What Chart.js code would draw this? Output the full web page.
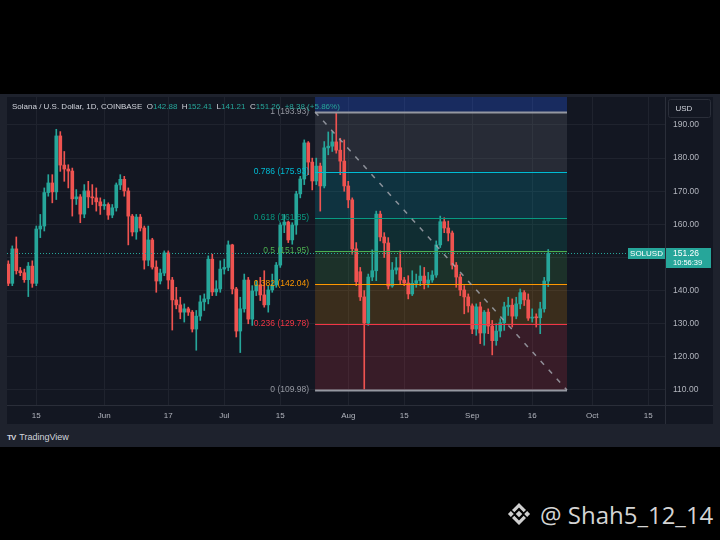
<!DOCTYPE html>
<html><head><meta charset="utf-8">
<script src="https://cdn.jsdelivr.net/npm/chart.js@4.4.1/dist/chart.umd.min.js"></script>
<style>
html,body{margin:0;padding:0;background:#000;width:720px;height:540px;overflow:hidden;font-family:"Liberation Sans",Arial,sans-serif;}
#frame{position:absolute;left:0;top:94px;width:720px;height:353px;background:#1e222d;}
#wrap{position:absolute;left:7px;top:97px;width:706px;height:327px;background:#131722;}
#hdr{position:absolute;left:12px;top:102px;font-size:8px;line-height:10px;color:#d1d4dc;white-space:pre;}
#hdr .t{color:#26a69a;}
#tv{position:absolute;left:7px;top:431px;font-size:9px;line-height:12px;color:#d1d4dc;}
#tv b{font-size:8px;letter-spacing:-1px;margin-right:4px;}
#wm{position:absolute;left:505px;top:497px;height:34px;display:flex;align-items:center;color:#d4d4d4;font-family:"Open Sans",sans-serif;font-size:24px;}
#wm svg{margin-right:7px;}
</style></head>
<body>
<div id="frame"></div>
<div id="wrap"><canvas id="c" width="706" height="327"></canvas></div>
<div id="hdr">Solana / U.S. Dollar, 1D, COINBASE  O<span class="t">142.88</span>  H<span class="t">152.41</span>  L<span class="t">141.21</span>  C<span class="t">151.26</span>  <span class="t">+8.38 (+5.86%)</span></div>
<div id="tv"><b>TV</b>TradingView</div>
<div id="wm"><svg width="28" height="28" viewBox="0 0 24 24"><g fill="#cfcfcf">
<polygon points="12,9.2 14.8,12 12,14.8 9.2,12"/>
<polygon points="2.5,12 5,9.5 7.5,12 5,14.5"/>
<polygon points="16.5,12 19,9.5 21.5,12 19,14.5"/>
<polygon points="12,2.5 18,8.5 16,10.5 12,6.5 8,10.5 6,8.5"/>
<polygon points="12,21.5 18,15.5 16,13.5 12,17.5 8,13.5 6,15.5"/>
</g></svg><span>@ Shah5_12_14</span></div>
<script>
// ---- data (daily candles, May 8 .. Sep 20) ----
const openP  = [148.0,142.2,152.6,146.0,145.4,143.3,147.4,142.2,158.6,159.5,169.6,172.5,169.8,186.7,177.9,176.7,176.1,167.7,168.3,163.1,170.1,168.3,168.0,166.8,165.6,166.0,162.8,165.0,171.9,173.6,
170.1,162.5,157.7,162.2,158.9,149.2,155.3,147.1,142.9,145.3,151.4,143.2,137.2,135.7,133.5,134.5,133.5,128.4,132.3,136.6,137.5,149.5,139.6,140.5,146.5,147.0,153.8,140.5,127.8,134.5,
143.2,131.4,139.9,141.7,138.7,135.7,140.2,141.7,147.7,159.8,160.7,155.3,159.8,169.2,173.7,184.6,178.8,173.1,177.6,171.6,183.1,183.6,184.9,182.4,179.1,171.6,167.4,152.6,145.7,138.1,
130.2,144.1,146.0,163.1,156.2,154.4,141.4,146.2,146.9,143.2,142.3,139.0,142.2,143.0,144.4,142.2,143.2,144.7,153.8,160.8,158.9,157.4,147.7,144.1,140.2,138.1,135.4,128.4,135.1,127.2,
133.5,129.3,124.9,127.8,130.3,135.1,135.6,132.3,136.0,139.4,137.2,131.7,132.0,131.8,134.5,142.88];
const highP  = [149.0,153.5,156.2,147.0,146.5,148.5,149.0,159.5,163.0,171.0,175.0,175.0,188.7,188.0,182.0,178.0,177.0,170.5,169.0,172.0,173.0,172.0,171.0,168.0,167.5,166.5,166.0,172.5,175.0,174.5,
171.0,163.0,163.0,163.0,159.5,159.5,155.8,149.0,146.5,152.0,152.0,144.0,141.0,138.0,136.0,135.0,134.0,134.0,138.5,139.0,150.5,151.0,143.0,149.0,149.5,155.0,154.0,141.0,138.0,145.0,
144.0,141.5,143.0,144.0,146.0,141.5,145.0,148.5,160.5,163.0,161.0,160.5,170.0,174.5,185.5,185.0,180.0,180.0,178.5,185.0,187.9,188.0,193.7,186.0,185.5,173.0,168.0,154.5,147.0,140.0,
145.0,152.3,164.0,164.0,157.5,156.0,148.5,150.0,152.0,144.0,144.5,146.0,145.0,147.5,147.0,145.5,146.0,155.0,162.5,162.0,161.0,158.0,148.5,145.0,141.5,139.0,136.0,136.0,136.5,134.0,
134.5,131.0,130.0,131.5,136.5,138.0,137.5,138.0,140.5,140.0,139.0,134.5,133.0,136.5,144.0,152.41];
const lowP   = [141.5,141.5,145.0,144.5,142.5,138.2,141.0,141.5,156.0,158.0,168.5,166.5,167.5,176.0,173.0,171.0,162.5,166.0,160.5,162.0,165.0,166.0,164.0,163.0,164.5,161.5,162.0,164.0,170.5,168.5,
153.8,156.5,155.5,158.0,146.5,147.5,146.5,139.5,142.0,144.5,140.5,128.1,134.5,131.5,130.5,132.5,127.5,122.0,131.0,134.0,136.0,138.5,138.5,139.5,145.0,146.0,139.0,126.0,121.3,133.5,
130.0,129.5,138.5,137.0,135.0,133.5,139.5,141.0,147.0,157.5,154.5,154.0,157.0,168.0,172.0,175.0,170.4,172.0,164.0,171.0,181.0,182.0,181.5,175.0,170.0,165.0,151.0,141.5,137.0,110.3,
129.5,143.0,143.0,155.0,150.0,140.5,141.0,145.0,142.0,141.5,137.5,138.5,141.0,141.5,140.5,141.0,142.5,144.0,153.0,157.5,155.0,146.5,141.0,138.5,133.0,133.5,127.0,126.5,124.0,123.5,
127.0,120.6,123.5,126.0,128.0,132.5,129.0,131.5,134.5,135.5,131.0,130.5,129.0,127.0,133.5,141.21];
const closeP = [142.2,152.6,146.0,145.4,143.3,147.4,142.2,158.6,159.5,169.6,172.5,169.8,186.7,177.9,176.7,176.1,167.7,168.3,163.1,170.1,168.3,168.0,166.8,165.6,166.0,162.8,165.0,171.9,173.6,170.1,
162.5,157.7,162.2,158.9,149.2,155.3,147.1,142.9,145.3,151.4,143.2,137.2,135.7,133.5,134.5,133.5,128.4,132.3,136.6,137.5,149.5,139.6,140.5,146.5,147.0,153.8,140.5,127.8,134.5,143.2,
131.4,139.9,141.7,138.7,135.7,140.2,141.7,147.7,159.8,160.7,155.3,159.8,169.2,173.7,184.6,178.8,173.1,177.6,171.6,183.1,183.6,184.9,182.4,179.1,171.6,167.4,152.6,142.7,138.1,130.2,
144.1,146.0,163.1,156.2,154.4,141.4,146.2,146.9,143.2,142.3,139.0,142.2,143.0,144.4,142.2,143.2,144.7,153.8,160.8,158.9,157.4,147.7,144.1,140.2,138.1,135.4,128.4,135.1,127.2,133.5,
129.3,124.9,127.8,130.3,135.1,135.6,132.3,136.0,139.4,137.2,131.7,132.0,131.8,134.5,142.9,151.26];
// x axis: day index (0 = May 8) and labels
const xTickIdx    = [7, 24, 40, 54, 68, 85, 99, 116, 131, 146, 160];
const xTickLabels = ['15','Jun','17','Jul','15','Aug','15','Sep','16','Oct','15'];
const yTicks      = [110,120,130,140,150,160,170,180,190];
// Fibonacci retracement levels
const fibRatios = [0, 0.236, 0.382, 0.5, 0.618, 0.786, 1, 1.618];
const fibPrices = [109.98, 129.78, 142.04, 151.95, 161.85, 175.93, 193.93, 245.8];
const fibLabels = ['0 (109.98)','0.236 (129.78)','0.382 (142.04)','0.5 (151.95)','0.618 (161.85)','0.786 (175.93)','1 (193.93)',''];
const fibColors = ['#787b86','#f23645','#ff9800','#4caf50','#089981','#00bcd4','#787b86','#2962ff'];
const fibStartIdx = 76.7, fibEndIdx = 139.7;
const lastPrice = 151.26, symbol = 'SOLUSD', countdown = '10:56:39';

const UP = '#26a69a', DOWN = '#ef5350';
const idx = closeP.map((_, i) => i);
const cols = idx.map(i => closeP[i] >= openP[i] ? UP : DOWN);

function hexA(h, a){const n=parseInt(h.slice(1),16);return `rgba(${n>>16},${(n>>8)&255},${n&255},${a})`;}

const fibPlugin = {
  id:'fib',
  beforeDatasetsDraw(chart){
    const {ctx, chartArea:ca, scales:{x,y}} = chart;
    const x1 = x.getPixelForValue(fibStartIdx), x2 = x.getPixelForValue(fibEndIdx);
    ctx.save();
    ctx.beginPath(); ctx.rect(ca.left, ca.top, ca.right-ca.left, ca.bottom-ca.top); ctx.clip();
    for (let i=1;i<fibPrices.length;i++){
      const ya = y.getPixelForValue(fibPrices[i-1]), yb = y.getPixelForValue(fibPrices[i]);
      ctx.fillStyle = hexA(fibColors[i], i===7 ? 0.28 : (i===6 ? 0.2 : 0.17));
      ctx.fillRect(x1, yb, x2-x1, ya-yb);
    }
    ctx.restore();
  },
  afterDatasetsDraw(chart){
    const {ctx, chartArea:ca, scales:{x,y}} = chart;
    const x1 = x.getPixelForValue(fibStartIdx), x2 = x.getPixelForValue(fibEndIdx);
    ctx.save();
    ctx.beginPath(); ctx.rect(ca.left, ca.top, ca.right-ca.left, ca.bottom-ca.top); ctx.clip();
    ctx.font = '8.5px "Liberation Sans", Arial, sans-serif';
    ctx.textAlign = 'right'; ctx.textBaseline = 'middle';
    for (let i=0;i<7;i++){
      const py = Math.round(y.getPixelForValue(fibPrices[i])) + 0.5;
      ctx.strokeStyle = (i===0||i===6) ? '#9598a1' : fibColors[i];
      ctx.lineWidth = (i===0||i===6) ? 2 : 1.2;
      ctx.beginPath(); ctx.moveTo(x1, py); ctx.lineTo(x2, py); ctx.stroke();
      ctx.fillStyle = (i===0||i===6) ? '#9598a1' : fibColors[i];
      ctx.fillText(fibLabels[i], x1 - 6, py - 1);
    }
    ctx.setLineDash([5,7]); ctx.lineWidth = 1.5; ctx.strokeStyle = 'rgba(160,163,172,0.85)';
    ctx.beginPath();
    ctx.moveTo(x1, y.getPixelForValue(fibPrices[6]));
    ctx.lineTo(x2, y.getPixelForValue(fibPrices[0]));
    ctx.stroke();
    const py = Math.round(y.getPixelForValue(lastPrice)) + 0.5;
    ctx.setLineDash([1,2]); ctx.lineWidth = 1; ctx.strokeStyle = UP;
    ctx.beginPath(); ctx.moveTo(ca.left, py); ctx.lineTo(ca.right - 37, py); ctx.stroke();
    ctx.setLineDash([]);
    ctx.fillStyle = UP;
    ctx.fillRect(ca.right - 37, py - 5.5, 37, 11);
    ctx.fillStyle = '#ffffff'; ctx.textAlign = 'center'; ctx.font = '8px "Liberation Sans", Arial, sans-serif';
    ctx.fillText(symbol, ca.right - 18.5, py + 0.5);
    ctx.restore();
    ctx.save();
    ctx.strokeStyle = '#2a2e39'; ctx.lineWidth = 1;
    ctx.beginPath();
    ctx.moveTo(Math.round(ca.right)+0.5, 0); ctx.lineTo(Math.round(ca.right)+0.5, chart.height);
    ctx.moveTo(0, Math.round(ca.bottom)+0.5); ctx.lineTo(chart.width, Math.round(ca.bottom)+0.5);
    ctx.stroke();
    ctx.fillStyle = UP;
    ctx.fillRect(ca.right + 1, py - 5.5, chart.width - ca.right - 3, 20);
    ctx.fillStyle = '#ffffff'; ctx.textAlign = 'left'; ctx.textBaseline = 'middle';
    ctx.font = '8.5px "Liberation Sans", Arial, sans-serif';
    ctx.fillText(lastPrice.toFixed(2), ca.right + 8, py);
    ctx.font = '7.5px "Liberation Sans", Arial, sans-serif';
    ctx.fillText(countdown, ca.right + 8, py + 9.5);
    const bx = ca.right + 3.5, bw = chart.width - ca.right - 6;
    ctx.strokeStyle = '#2a2e39';
    ctx.beginPath();
    if (ctx.roundRect) ctx.roundRect(bx, 2.5, bw, 18, 2); else ctx.rect(bx, 2.5, bw, 18);
    ctx.stroke();
    ctx.fillStyle = '#d1d4dc'; ctx.font = '8px "Liberation Sans", Arial, sans-serif';
    ctx.fillText('USD', bx + 7, 11.5);
    ctx.restore();
  }
};

Chart.defaults.font.family = '"Liberation Sans", Arial, sans-serif';
new Chart(document.getElementById('c'), {
  type: 'bar',
  data: {
    datasets: [
      { label:'wick', data: idx.map(i => ({x:i, y:[lowP[i], highP[i]]})), backgroundColor: cols,
        barThickness: 1, grouped: false, order: 2, minBarLength: 1 },
      { label:'body', data: idx.map(i => ({x:i, y:[openP[i], closeP[i]]})), backgroundColor: cols,
        barThickness: 3, grouped: false, order: 1, minBarLength: 1 }
    ]
  },
  options: {
    responsive: false, animation: false,
    layout: { padding: 0 },
    plugins: { legend: {display:false}, tooltip: {enabled:false} },
    scales: {
      x: {
        type: 'linear', min: -0.325, max: 164.2, offset: false,
        afterBuildTicks: s => { s.ticks = xTickIdx.map(v => ({value:v})); },
        afterFit: s => { s.height = 19; s.paddingLeft = 0; s.paddingRight = 0; },
        ticks: { autoSkip:false, maxRotation:0, color:'#b2b5be', font:{size:8}, padding:6,
                 callback: v => { const k = xTickIdx.indexOf(v); return k >= 0 ? xTickLabels[k] : ''; } },
        grid: { color:'#1f232e', drawTicks:false, offset:false },
        border: { display:false }
      },
      y: {
        position: 'right', min: 105.47, max: 198.45,
        afterBuildTicks: s => { s.ticks = yTicks.map(v => ({value:v})); },
        afterFit: s => { s.width = 48; s.paddingTop = 0; s.paddingBottom = 0; },
        ticks: { color:'#b2b5be', font:{size:8.5}, padding:8, callback: v => Number(v).toFixed(2) },
        grid: { color:'#1f232e', drawTicks:false },
        border: { display:false }
      }
    }
  },
  plugins: [fibPlugin]
});
</script>
</body></html>
